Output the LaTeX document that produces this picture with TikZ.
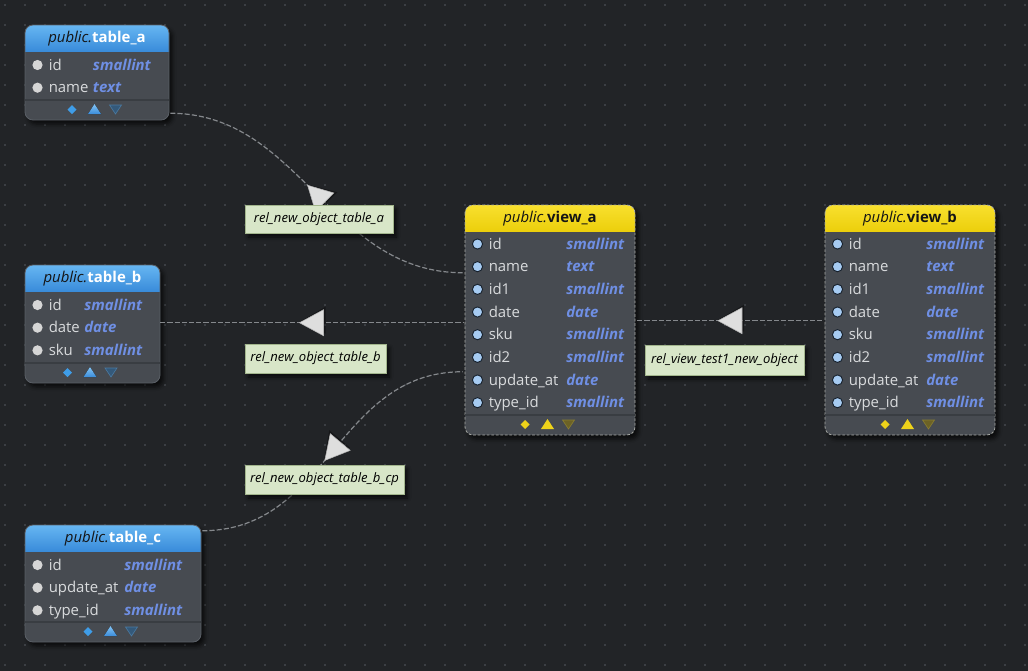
\documentclass[tikz,border=0pt]{standalone}
\usepackage{fontspec}
\setmainfont{Open Sans}
\usetikzlibrary{calc,fit,shadows.blur,decorations.markings}
\definecolor{cBg}{HTML}{222427}
\definecolor{cGrid}{HTML}{3C3F44}
\definecolor{cBody}{HTML}{474B51}
\definecolor{cEdge}{HTML}{5A5F66}
\definecolor{cVwEdge}{HTML}{A9ABA6}
\definecolor{cSep}{HTML}{393D42}
\definecolor{cBlueTop}{HTML}{66B6F2}
\definecolor{cBlueBot}{HTML}{3A8CDA}
\definecolor{cYelTop}{HTML}{F8E02E}
\definecolor{cYelBot}{HTML}{ECCF0C}
\definecolor{cName}{HTML}{D9DBDD}
\definecolor{cType}{HTML}{6F8FE4}
\definecolor{cTitle}{HTML}{151515}
\definecolor{cRelFill}{HTML}{D8E6C8}
\definecolor{cRelEdge}{HTML}{A2B58C}
\definecolor{cConn}{HTML}{85888C}
\definecolor{cArrow}{HTML}{DEDEDE}
\definecolor{cArrowEdge}{HTML}{B4B4B4}
\definecolor{cTblDot}{HTML}{D6D6D6}
\definecolor{cVwDot}{HTML}{A6CBF2}
\definecolor{cVwDotEdge}{HTML}{18222E}
\definecolor{cBlueDia}{HTML}{3F9DE8}
\definecolor{cBlueDownF}{HTML}{34597A}
\definecolor{cBlueDownD}{HTML}{4A7AA2}
\definecolor{cYelDia}{HTML}{EED31A}
\definecolor{cYelDownF}{HTML}{6C6226}
\definecolor{cYelDownD}{HTML}{8A7E30}
\tikzset{
  shadowkeys/.style={blur shadow={shadow xshift=2.5pt, shadow yshift=-3pt, shadow blur radius=3pt, shadow opacity=70}},
  tblshadowed/.style={fill=cBody, rounded corners=6pt, shadowkeys},
  vwshadowed/.style={fill=cBody, rounded corners=6pt, shadowkeys},
  tblhead/.style={top color=cBlueTop, bottom color=cBlueBot},
  vwhead/.style={top color=cYelTop, bottom color=cYelBot},
  tbledge/.style={draw=cEdge, line width=0.6pt, rounded corners=6pt},
  vwedge/.style={draw=cVwEdge, line width=0.6pt, rounded corners=6pt, dash pattern=on 2pt off 1.4pt},
  sepline/.style={draw=cSep, line width=0.8pt},
  basefont/.style={font=\fontsize{11.2pt}{13pt}\selectfont},
  tbltitle/.style={basefont, inner sep=0pt, text=cTitle},
  vwtitle/.style={basefont, inner sep=0pt, text=cTitle},
  colname/.style={basefont, anchor=mid west, inner sep=0pt, text=cName},
  coltype/.style={font=\fontsize{11.2pt}{13pt}\selectfont\bfseries\itshape, anchor=mid west, inner sep=0pt, text=cType},
  tbldot/.style={fill=cTblDot},
  vwdot/.style={fill=cVwDot, draw=cVwDotEdge, line width=0.7pt},
  tbldia/.style={fill=cBlueDia},
  tblup/.style={top color=cBlueTop!80!white, bottom color=cBlueBot},
  tbldown/.style={fill=cBlueDownF, draw=cBlueDownD, line width=0.5pt},
  vwdia/.style={fill=cYelDia},
  vwup/.style={fill=cYelDia},
  vwdown/.style={fill=cYelDownF, draw=cYelDownD, line width=0.5pt},
  conn/.style={draw=cConn, line width=0.9pt, dash pattern=on 3.8pt off 1.6pt},
  relmark/.style={postaction={decorate}, decoration={markings, mark=at position 0.5 with {
      \fill[black, opacity=0.35] (-10,-2) -- (14,11) -- (14,-16) -- cycle;
      \filldraw[solid, fill=cArrow, draw=cArrowEdge, line width=0.4pt] (-12,0) -- (12,13) -- (12,-13) -- cycle;}}},
  relbox/.style={draw=cRelEdge, fill=cRelFill, line width=0.7pt, text=black, inner sep=0pt,
      font=\fontsize{9.8pt}{11pt}\selectfont\itshape, shadowkeys}
}
% #1 name, #2 x1, #3 y1, #4 x2, #5 y2, #6 header bottom, #7 kind
\newcommand{\erframe}[7]{%
  \fill[#7shadowed] (#2,#3) rectangle (#4,#5);
  \begin{scope}
    \clip[rounded corners=6pt] (#2,#3) rectangle (#4,#5);
    \shade[#7head] (#2,#3) rectangle (#4,#6);
  \end{scope}
  \draw[#7edge] (#2,#3) rectangle (#4,#5);
  \draw[sepline] (#2,{#5-20}) -- (#4,{#5-20});
  \node[fit={(#2,#3)(#4,#5)}, inner sep=0pt] (#1) {};
}
% #1 name, #2 x1, #3 first y, #4 type x, #5 kind, #6 list
\newcommand{\errows}[6]{%
  \foreach \nm/\ty [count=\i] in {#6} {
    \pgfmathsetmacro{\yy}{#3+(\i-1)*22.67}
    \fill[#5dot] ({#2+12.5},\yy) circle (5.1);
    \node[colname] (#1-n\i) at ({#2+23.5},{\yy+1.5}) {\nm};
    \node[coltype] (#1-t\i) at (#4,{\yy+1.5}) {\ty};
  }
}
% #1 cx, #2 fy, #3 kind
\newcommand{\erfoot}[3]{%
  \fill[#3dia] ({#1-25},{#2-4.5}) -- ({#1-20.5},#2) -- ({#1-25},{#2+4.5}) -- ({#1-29.5},#2) -- cycle;
  \fill[#3up] ({#1-2.5},{#2-5.5}) -- ({#1+4},{#2+4.5}) -- ({#1-9},{#2+4.5}) -- cycle;
  \filldraw[#3down] ({#1+18.5},{#2+4.5}) -- ({#1+24.5},{#2-4.5}) -- ({#1+12.5},{#2-4.5}) -- cycle;
}
\begin{document}
\begin{tikzpicture}[x=0.75pt,y=-0.75pt]
\fill[cBg] (0,0) rectangle (1028,671);
\useasboundingbox (0,0) rectangle (1028,671);
\foreach \gx in {5,25,...,1025} \foreach \gy in {5,25,...,665}
  \fill[cGrid] ({\gx-0.8},{\gy-0.8}) rectangle +(1.6,1.6);

% table_a
\erframe{ta}{25}{25}{169}{120}{51}{tbl}
\node[tbltitle] (ta-title) at (97,38.5) {\textit{public.}\textbf{\textcolor{white}{table\_a}}};
\errows{ta}{25}{65}{92.7}{tbl}{id/smallint, name/text}
\erfoot{97}{109.5}{tbl}

% table_b
\erframe{tb}{25}{265}{160}{383}{291}{tbl}
\node[tbltitle] (tb-title) at (92.5,278.5) {\textit{public.}\textbf{\textcolor{white}{table\_b}}};
\errows{tb}{25}{305}{84}{tbl}{id/smallint, date/date, sku/smallint}
\erfoot{92.5}{372.5}{tbl}

% table_c
\erframe{tc}{25}{525}{201}{642}{551}{tbl}
\node[tbltitle] (tc-title) at (113,538.5) {\textit{public.}\textbf{\textcolor{white}{table\_c}}};
\errows{tc}{25}{565}{124}{tbl}{id/smallint, update\_at/date, type\_id/smallint}
\erfoot{113}{631.5}{tbl}

% view_a
\erframe{va}{465}{205}{635}{435}{231}{vw}
\node[vwtitle] (va-title) at (550,218.5) {\textit{public.}\textbf{view\_a}};
\errows{va}{465}{244}{566}{vw}{id/smallint, name/text, id1/smallint, date/date, sku/smallint, id2/smallint, update\_at/date, type\_id/smallint}
\erfoot{550}{424.5}{vw}

% view_b
\erframe{vb}{825}{205}{995}{435}{231}{vw}
\node[vwtitle] (vb-title) at (910,218.5) {\textit{public.}\textbf{view\_b}};
\errows{vb}{825}{244}{926}{vw}{id/smallint, name/text, id1/smallint, date/date, sku/smallint, id2/smallint, update\_at/date, type\_id/smallint}
\erfoot{910}{424.5}{vw}

% connectors
\draw[conn, relmark] ($(ta.south east)+(1,-7)$) .. controls +(130,0) and +(-133,0) .. ($(va.north west)+(-2,68)$);
\draw[conn, relmark] ($(tb.north east)+(0,58)$) -- ($(va.north west)+(-2,118)$);
\draw[conn, relmark] ($(tc.north east)+(1,6)$) .. controls +(127,0) and +(-127,0) .. ($(va.north west)+(-2,167)$);
\draw[conn, relmark] ($(va.north east)+(2,116)$) -- ($(vb.north west)+(-2,116)$);

% relationship labels
\node[relbox, minimum width=111pt, minimum height=21pt] (rl1) at (319,219) {rel\_new\_object\_table\_a};
\node[relbox, minimum width=105.75pt, minimum height=21.75pt] (rl2) at (315.5,358.5) {rel\_new\_object\_table\_b};
\node[relbox, minimum width=119.25pt, minimum height=21.75pt] (rl3) at (324.5,479.5) {rel\_new\_object\_table\_b\_cp};
\node[relbox, minimum width=119.25pt, minimum height=22.5pt] (rl4) at (724.5,360) {rel\_view\_test1\_new\_object};
\end{tikzpicture}
\end{document}
